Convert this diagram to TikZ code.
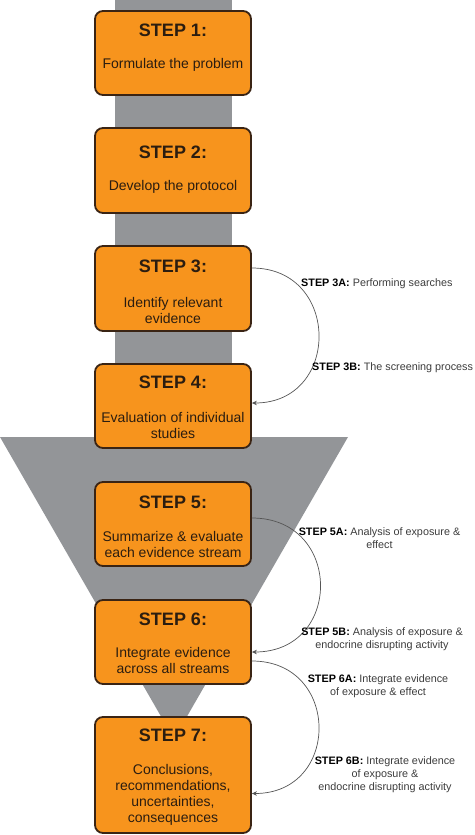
\documentclass[tikz,border=0pt]{standalone}
\usepackage{fontspec}
\setmainfont{Liberation Sans}
\usetikzlibrary{arrows.meta}
\definecolor{boxorange}{HTML}{F7941D}
\definecolor{boxline}{HTML}{3A2414}
\definecolor{boxtext}{HTML}{2B1D10}
\definecolor{funnelgray}{HTML}{939598}
\definecolor{sidetext}{HTML}{3C3C3C}
\definecolor{curvecol}{HTML}{555555}
\tikzset{
  stepbox/.style={rectangle, rounded corners=8pt, draw=boxline, line width=1.8pt,
    fill=boxorange, minimum width=156pt, inner sep=0pt},
  steptitle/.style={font=\fontsize{18}{20}\selectfont\bfseries, text=boxtext, inner sep=0pt},
  stepbody/.style={font=\fontsize{14}{16}\selectfont, text=boxtext, align=center, inner sep=0pt},
  sidelabel/.style={font=\fontsize{10.8}{13}\selectfont, text=sidetext, align=center, inner sep=0pt},
  loopline/.style={draw=curvecol, line width=0.7pt, -{Stealth[length=5pt,width=4.5pt]}}
}
\newcommand{\stp}[1]{\textbf{\textcolor{black}{#1}}}
\begin{document}
\begin{tikzpicture}[x=1pt,y=-1pt]
\useasboundingbox (0,0) rectangle (474,835);
% grey background shapes
\fill[funnelgray] (115,0) rectangle (232,440);
\fill[funnelgray] (0,437) -- (348,437) -- (174,739) -- cycle;
% boxes
\node[stepbox, minimum height=84pt] (s1) at (173,53) {};
\node[stepbox, minimum height=85pt] (s2) at (173,170.5) {};
\node[stepbox, minimum height=85pt] (s3) at (173,288.5) {};
\node[stepbox, minimum height=84pt] (s4) at (173,406) {};
\node[stepbox, minimum height=84pt] (s5) at (173,524) {};
\node[stepbox, minimum height=84pt] (s6) at (173,642) {};
\node[stepbox, minimum height=116pt] (s7) at (173,775) {};
% titles
\node[steptitle] (t1) at (173,30) {STEP 1:};
\node[steptitle] (t2) at (173,152) {STEP 2:};
\node[steptitle] (t3) at (173,266) {STEP 3:};
\node[steptitle] (t4) at (173,382) {STEP 4:};
\node[steptitle] (t5) at (173,502) {STEP 5:};
\node[steptitle] (t6) at (173,619) {STEP 6:};
\node[steptitle] (t7) at (173,735) {STEP 7:};
% bodies
\node[stepbody] (b1) at (173,65) {Formulate the problem};
\node[stepbody] (b2) at (173,187) {Develop the protocol};
\node[stepbody] (b3) at (173,310.5) {Identify relevant\\evidence};
\node[stepbody] (b4) at (173,425) {Evaluation of individual\\studies};
\node[stepbody] (b5) at (173,544.5) {Summarize \& evaluate\\each evidence stream};
\node[stepbody] (b6) at (173,660) {Integrate evidence\\across all streams};
\node[stepbody] (b7) at (173,795) {Conclusions,\\recommendations,\\uncertainties,\\consequences};
% loops
\draw[loopline] ([yshift=20.5pt]s3.east) .. controls +(89,0) and +(89,0) .. ([yshift=3pt]s4.east);
\draw[loopline] ([yshift=6pt]s5.east) .. controls +(91,0) and +(91,0) .. ([yshift=-10pt]s6.east);
\draw[loopline] ([yshift=-19pt]s6.east) .. controls +(89,0) and +(89,0) .. ([yshift=-18.5pt]s7.east);
% side labels
\node[sidelabel, anchor=west] (l3a) at (301,284) {\stp{STEP 3A:} Performing searches};
\node[sidelabel, anchor=west] (l3b) at (312,368) {\stp{STEP 3B:} The screening process};
\node[sidelabel] (l5a) at (379.5,538.5) {\stp{STEP 5A:} Analysis of exposure \&\\effect};
\node[sidelabel] (l5b) at (382,639) {\stp{STEP 5B:} Analysis of exposure \&\\endocrine disrupting activity};
\node[sidelabel] (l6a) at (378,686.5) {\stp{STEP 6A:} Integrate evidence\\of exposure \& effect};
\node[sidelabel] (l6b) at (385,774.5) {\stp{STEP 6B:} Integrate evidence\\of exposure \&\\endocrine disrupting activity};
\end{tikzpicture}
\end{document}
